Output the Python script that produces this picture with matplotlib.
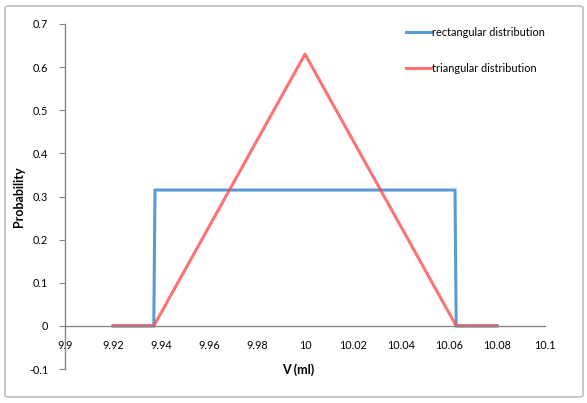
import numpy as np
import matplotlib
matplotlib.use('Agg')
import matplotlib.pyplot as plt
from matplotlib.ticker import FuncFormatter, MultipleLocator
from matplotlib.patches import FancyBboxPatch

plt.rcParams['font.family'] = ['Lato', 'DejaVu Sans']
plt.rcParams['font.size'] = 7.8

# data
v_rect = [9.92, 9.937, 9.9375, 10.0625, 10.063, 10.08]
p_rect = [0, 0, 0.315, 0.315, 0, 0]
v_tri = [9.92, 9.937, 10.0, 10.063, 10.08]
p_tri = [0, 0, 0.63, 0, 0]

blue = '#5B9BD5'
red = '#FF4F4F'
axis_grey = '#868686'

fig = plt.figure(figsize=(5.87, 4.03), dpi=100)
ax = fig.add_axes([65/587, 1-369/403, (545-65)/587, (369-24)/403])

ax.plot(v_rect, p_rect, color=blue, lw=2.2, label='rectangular distribution',
        solid_joinstyle='miter')
ax.plot(v_tri, p_tri, color=red, lw=2.2, alpha=0.8, label='triangular distribution')

ax.set_xlim(9.9, 10.1)
ax.set_ylim(-0.1, 0.7)
ax.xaxis.set_major_locator(MultipleLocator(0.02))
ax.yaxis.set_major_locator(MultipleLocator(0.1))
fmt = FuncFormatter(lambda v, p: '%g' % round(v, 4))
ax.xaxis.set_major_formatter(fmt)
ax.yaxis.set_major_formatter(fmt)

ax.spines['top'].set_visible(False)
ax.spines['right'].set_visible(False)
ax.spines['bottom'].set_position(('data', 0))
for s in ['left', 'bottom']:
    ax.spines[s].set_color(axis_grey)
    ax.spines[s].set_linewidth(1.0)
ax.tick_params(axis='y', direction='out', length=4, color=axis_grey, pad=8)
ax.tick_params(axis='x', direction='out', length=0, pad=10)

ax.set_xlabel('V (ml)', fontweight='bold', fontsize=9)
ax.xaxis.set_label_coords(0.485, 0.017)
ax.set_ylabel('Probability', fontweight='bold', fontsize=9)
ax.yaxis.set_label_coords(-0.083, 0.5)

leg = ax.legend(loc='upper left', bbox_to_anchor=(0.69, 1.019), frameon=False,
                labelspacing=2.3, handlelength=2.3, handletextpad=0.1)

fig.patches.append(FancyBboxPatch((5/587, 6/403), 578/587, 391/403,
                                  boxstyle='round,pad=0,rounding_size=0.005',
                                  transform=fig.transFigure, fill=False,
                                  edgecolor='#BFBFBF', lw=1.2))

fig.savefig('out.png', dpi=100)
